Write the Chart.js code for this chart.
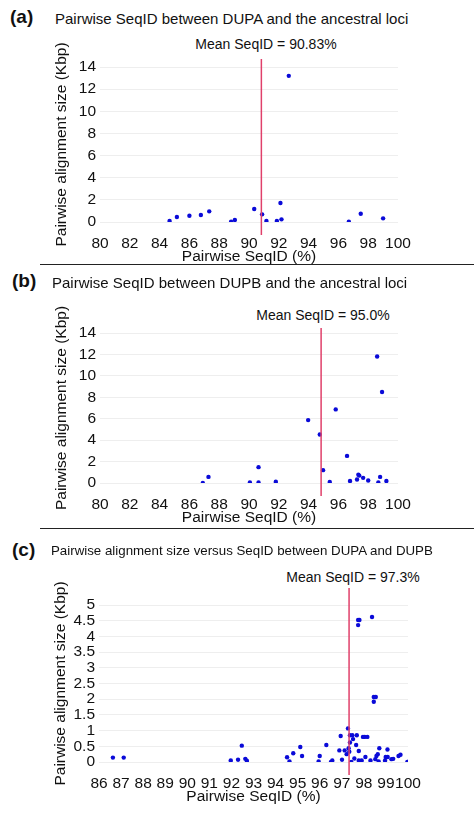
<!DOCTYPE html>
<html>
<head>
<meta charset="utf-8">
<script src="https://cdn.jsdelivr.net/npm/chart.js@4"></script>
<style>
  body { margin: 0; background: #fff; font-family: "Liberation Sans", Arial, sans-serif; }
  #page { position: relative; width: 474px; height: 826px; }
  .box { position: absolute; left: 0; width: 474px; }
  .lab { position: absolute; font-weight: bold; font-size: 19px; color: #111; }
  .ttl { position: absolute; font-size: 15px; color: #111; white-space: nowrap; }
  .mean { position: absolute; font-size: 14px; color: #111; white-space: nowrap; transform: translateX(-50%); }
  .sep { position: absolute; left: 40px; width: 434px; height: 0; border-top: 1.5px solid #222; }
</style>
</head>
<body>
<div id="page">
  <div class="lab" style="left:10px;top:6px">(a)</div>
  <div class="ttl" style="left:55px;top:10px">Pairwise SeqID between DUPA and the ancestral loci</div>
  <div class="mean" style="left:266px;top:36px">Mean SeqID = 90.83%</div>
  <div class="box" style="top:40px;height:226px"><canvas id="chartA"></canvas></div>
  <div class="sep" style="top:264px"></div>

  <div class="lab" style="left:12px;top:270px">(b)</div>
  <div class="ttl" style="left:52px;top:274px">Pairwise SeqID between DUPB and the ancestral loci</div>
  <div class="mean" style="left:323px;top:307px">Mean SeqID = 95.0%</div>
  <div class="box" style="top:305px;height:222px"><canvas id="chartB"></canvas></div>
  <div class="sep" style="top:528px"></div>

  <div class="lab" style="left:12px;top:539px">(c)</div>
  <div class="ttl" style="left:51px;top:543px;font-size:13.3px">Pairwise alignment size versus SeqID between DUPA and DUPB</div>
  <div class="mean" style="left:353px;top:569px">Mean SeqID = 97.3%</div>
  <div class="box" style="top:580px;height:230px"><canvas id="chartC"></canvas></div>
</div>
<script>
// Painel (a): DUPA vs loci ancestrais
const seqIdA = [84.67, 85.16, 86.0, 86.77, 87.33, 88.8, 89.05, 90.35, 90.88, 91.17, 91.87, 92.11, 92.18, 92.67, 96.7, 97.5, 99.0];
const sizeA  = [0.1, 0.45, 0.57, 0.63, 0.96, 0.03, 0.18, 1.17, 0.69, 0.1, 0.1, 1.72, 0.24, 13.2, 0.03, 0.75, 0.33];
const meanA = 90.83;

// Painel (b): DUPB vs loci ancestrais
const seqIdB = [86.9, 87.28, 90.06, 90.64, 90.64, 91.8, 93.97, 94.75, 94.97, 95.42, 95.82, 96.58, 96.78, 97.25, 97.34, 97.4, 97.66, 98.0, 98.6, 98.68, 98.8, 98.93, 99.22];
const sizeB  = [0, 0.57, 0.05, 1.48, 0.05, 0.12, 5.87, 4.52, 1.2, 0.1, 6.87, 2.53, 0.18, 0.33, 0.78, 0.69, 0.48, 0.24, 11.8, 0.05, 0.57, 8.5, 0.18];
const meanB = 94.84;

// Painel (c): DUPA vs DUPB
const seqIdC = [86.63, 87.12, 91.97, 92.3, 92.47, 92.63, 92.7, 94.52, 94.63, 94.8, 95.12, 95.2, 95.95, 96.0, 96.3, 96.51, 96.57, 96.89, 96.95, 97.01, 97.13, 97.22, 97.28, 97.31, 97.34, 97.37, 97.37, 97.43, 97.48, 97.51, 97.57, 97.65, 97.68, 97.74, 97.74, 97.8, 97.77, 97.77, 97.9, 97.96, 98.04, 98.07, 98.16, 98.3, 98.37, 98.45, 98.45, 98.54, 98.52, 98.57, 98.63, 98.7, 98.67, 98.96, 98.99, 99.07, 99.08, 99.25, 99.33, 99.57, 99.66, 99.97, 100];
const sizeC  = [0.14, 0.14, 0.05, 0.07, 0.52, 0.1, 0.04, 0.15, 0.02, 0.28, 0.48, 0.19, 0.02, 0.19, 0.54, 0, 0.05, 0.37, 0.83, 0.07, 0.37, 0.25, 1.07, 0.44, 0.33, 0.62, 0.85, 0, 0.85, 0.73, 0.11, 0.54, 0.85, 4.36, 4.52, 4.52, 0.35, 0.05, 0.05, 0.8, 0.8, 0.16, 0.8, 0.05, 4.62, 1.92, 2.07, 2.07, 0.09, 0.19, 0.25, 0.44, 0.02, 0.05, 0.16, 0.4, 0.16, 0.09, 0.1, 0.19, 0.23, 0, 0];
const meanC = 97.33;

const tickFont = { family: '"Liberation Sans", Arial, sans-serif', size: 15.5 };
const titleFont = { family: '"Liberation Sans", Arial, sans-serif', size: 15.5 };

// Linha vertical da média
const meanLine = {
  id: 'meanLine',
  afterDatasetsDraw(chart, args, opts) {
    const x = chart.scales.x.getPixelForValue(opts.value);
    const ctx = chart.ctx;
    ctx.save();
    ctx.strokeStyle = '#e0406a';
    ctx.lineWidth = 1.5;
    ctx.beginPath();
    ctx.moveTo(x, chart.chartArea.top - opts.above);
    ctx.lineTo(x, chart.chartArea.bottom + 13);
    ctx.stroke();
    ctx.restore();
  }
};

function criarGrafico(id, xs, ys, mean, cfg) {
  const pontos = xs.map((x, i) => ({ x: x, y: ys[i] }));
  new Chart(document.getElementById(id), {
    type: 'scatter',
    data: { datasets: [{ data: pontos, backgroundColor: '#0a0ad8', borderWidth: 0, pointRadius: 2.2 }] },
    plugins: [meanLine],
    options: {
      responsive: true,
      maintainAspectRatio: false,
      animation: false,
      layout: { padding: cfg.padding },
      plugins: { legend: { display: false }, tooltip: { enabled: false }, meanLine: { value: mean, above: cfg.above } },
      scales: {
        x: {
          min: cfg.xMin, max: 100,
          ticks: { stepSize: cfg.xStep, font: tickFont, color: '#111', maxRotation: 0, autoSkip: false, padding: 4 },
          grid: { display: false },
          border: { display: false },
          title: { display: true, text: 'Pairwise SeqID (%)', font: titleFont, color: '#111', padding: { top: 2, bottom: 0 } },
          afterFit(s) { s.height = 44; }
        },
        y: {
          min: 0, max: cfg.yMax,
          ticks: { stepSize: cfg.yStep, font: tickFont, color: '#111', padding: 4, autoSkip: false, callback: v => String(v) },
          grid: { color: '#eeeeee', drawTicks: false },
          border: { display: false },
          title: { display: true, text: 'Pairwise alignment size (Kbp)', font: titleFont, color: '#111', padding: 0 },
          afterFit(s) { s.width = cfg.yWidth; }
        }
      }
    }
  });
}

criarGrafico('chartA', seqIdA, sizeA, meanA, { xMin: 80, xStep: 2, yMax: 14, yStep: 2, yWidth: 48, above: 8, padding: { left: 52, right: 76, top: 27, bottom: 0 } });
criarGrafico('chartB', seqIdB, sizeB, meanB, { xMin: 80, xStep: 2, yMax: 14, yStep: 2, yWidth: 48, above: 5, padding: { left: 52, right: 76, top: 28, bottom: 0 } });
criarGrafico('chartC', seqIdC, sizeC, meanC, { xMin: 86, xStep: 1, yMax: 5, yStep: 0.5, yWidth: 48, above: 17, padding: { left: 51, right: 66, top: 25, bottom: 4 } });
</script>
</body>
</html>
